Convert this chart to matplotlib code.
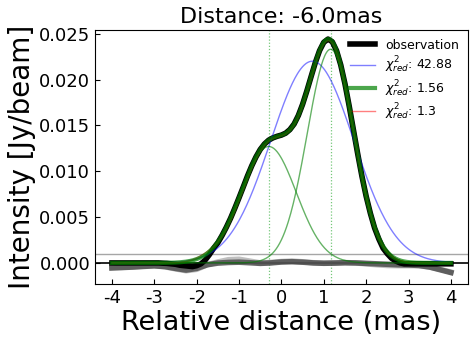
import numpy as np
import matplotlib
matplotlib.use("Agg")
import matplotlib.pyplot as plt

# observation, sampled every 0.1 mas from -4.0 to 4.0
obs_x = [round(-4.0 + 0.1 * i, 1) for i in range(81)]
obs_y = [
    0.0, 0.0, 0.0, 0.0, 0.0, 0.0, 0.0, 0.0, 0.0, 0.0,                                      # -4.0 .. -3.1
    0.0, 0.0, -0.00003, -0.00005, -0.0001, -0.00015, -0.00025, -0.0003, -0.00035, -0.0004,  # -3.0 .. -2.1
    -0.0003, -0.0001, 0.0003, 0.0009, 0.0016, 0.0022, 0.0030, 0.00389, 0.00487, 0.00596,    # -2.0 .. -1.1
    0.00711, 0.00829, 0.00949, 0.01059, 0.01156, 0.01237, 0.01297, 0.01339, 0.01364, 0.01381,  # -1.0 .. -0.1
    0.01394, 0.01415, 0.01454, 0.01515, 0.01608, 0.01730, 0.01875, 0.02031, 0.02184, 0.02315,  # 0.0 .. 0.9
    0.02406, 0.02441, 0.02412, 0.02316, 0.02160, 0.01953, 0.01710, 0.01450, 0.01191, 0.00946,  # 1.0 .. 1.9
    0.00727, 0.00540, 0.00380, 0.00260, 0.00160, 0.00100, 0.00050, 0.00020, 0.0, -0.0001,      # 2.0 .. 2.9
    -0.0001, -0.0001, -0.0001, -0.0001, -0.0001, -0.0001, -0.0001, -0.0001, -0.0001, -0.0001,  # 3.0 .. 3.9
    -0.0001,                                                                                    # 4.0
]

# fitted gaussian components: (amplitude, centre, sigma)
fit1_comps = [(0.0220, 0.73, 0.98)]
fit2_comps = [(0.0127, -0.30, 0.65), (0.0233, 1.16, 0.55)]
fit3_comps = [(0.0126, -0.29, 0.64), (0.0232, 1.16, 0.55), (0.0003, -1.75, 0.25)]
chi_labels = ["42.88", "1.56", "1.3"]
comp_centres = [-0.29, 1.16]

# residuals, sampled every 0.25 mas
res_x = [-4.0, -3.75, -3.5, -3.25, -3.0, -2.75, -2.5, -2.25, -2.0, -1.75, -1.5,
         -1.25, -1.0, -0.75, -0.5, -0.25, 0.0, 0.25, 0.5, 0.75, 1.0,
         1.25, 1.5, 1.75, 2.0, 2.25, 2.5, 2.75, 3.0, 3.25, 3.5, 3.75, 4.0]
res_dark = [-0.00055, -0.00050, -0.00045, -0.00038, -0.00032, -0.00040, -0.00060, -0.00078,
            -0.00060, -0.00020, -0.00002, 0.00005, 0.00008, 0.00002, -0.00005, 0.00000,
            0.00010, 0.00013, 0.00008, 0.00000, -0.00004, -0.00002, 0.00002, 0.00000,
            -0.00005, -0.00010, -0.00015, -0.00020, -0.00022, -0.00028, -0.00045, -0.00075, -0.00105]
res_light = [-0.00050, -0.00048, -0.00042, -0.00035, -0.00030, -0.00042, -0.00065, -0.00085,
             -0.00070, -0.00020, 0.00010, 0.00035, 0.00040, 0.00020, 0.00000, 0.00005,
             0.00015, 0.00020, 0.00012, 0.00002, -0.00003, 0.00000, 0.00003, 0.00000,
             -0.00010, -0.00020, -0.00028, -0.00030, -0.00030, -0.00030, -0.00045, -0.00070, -0.00100]

noise_level = 0.001


def gauss_sum(x, comps):
    y = np.zeros_like(x)
    for a, m, s in comps:
        y = y + a * np.exp(-(x - m) ** 2 / (2 * s ** 2))
    return y


fig = plt.figure(figsize=(4.74, 3.43), dpi=100)
ax = fig.add_axes([0.2004, 0.172, 0.7866, 0.7405])

xx = np.linspace(-4, 4, 401)

ax.axhline(0, color="black", lw=1.2, zorder=1)
ax.axhline(noise_level, color="gray", lw=1.0, alpha=0.7, zorder=1)
for c in comp_centres:
    ax.axvline(c, color="#3cb043", ls=(0, (1, 1.5)), lw=0.9, alpha=0.7, zorder=1)

ax.plot(res_x, res_light, color="gray", lw=4, alpha=0.5, zorder=2)
ax.plot(res_x, res_dark, color="0.3", lw=4, alpha=0.85, zorder=2)

ax.plot(obs_x, obs_y, color="black", lw=4, zorder=3, label="observation")
ax.plot(xx, gauss_sum(xx, fit1_comps), color="blue", lw=1, alpha=0.5, zorder=4,
        label=r"$\chi^2_{red}$: " + chi_labels[0])
ax.plot(xx, gauss_sum(xx, fit2_comps), color="green", lw=3, alpha=0.7, zorder=6,
        label=r"$\chi^2_{red}$: " + chi_labels[1])
for comp in fit2_comps:
    ax.plot(xx, gauss_sum(xx, [comp]), color="green", lw=1, alpha=0.6, zorder=4)
ax.plot(xx, gauss_sum(xx, fit3_comps), color="red", lw=1, alpha=0.5, zorder=5,
        label=r"$\chi^2_{red}$: " + chi_labels[2])

ax.set_xlim(-4.4, 4.4)
ax.set_ylim(-0.0023, 0.0254)
ax.set_xticks([-4, -3, -2, -1, 0, 1, 2, 3, 4])
ax.set_xticklabels(["-4", "-3", "-2", "-1", "0", "1", "2", "3", "4"])
ax.set_yticks([0.0, 0.005, 0.010, 0.015, 0.020, 0.025])
ax.set_yticklabels(["0.000", "0.005", "0.010", "0.015", "0.020", "0.025"])
ax.tick_params(direction="in", labelsize=13)

ax.set_title("Distance: -6.0mas", fontsize=16, pad=5)
ax.set_xlabel("Relative distance (mas)", fontsize=19.5, labelpad=2)
ax.set_ylabel("Intensity [Jy/beam]", fontsize=20, labelpad=2)

ax.legend(loc="upper right", frameon=False, fontsize=9, handlelength=2.0,
          borderaxespad=0.3, labelspacing=0.25)

fig.savefig("out.png", dpi=100)
